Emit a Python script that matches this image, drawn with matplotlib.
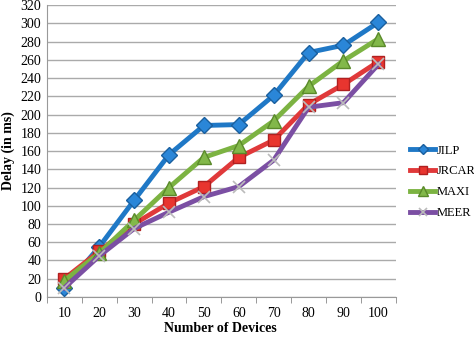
import matplotlib.pyplot as plt
import numpy as np

plt.rcParams['font.family'] = ['Liberation Serif', 'DejaVu Serif']

devices = ['10', '20', '30', '40', '50', '60', '70', '80', '90', '100']
jilp = [10, 55, 106, 156, 188, 189, 221, 268, 276, 301]
jrcar = [20, 50, 80, 103, 121, 153, 172, 211, 233, 258]
maxi = [18, 48, 84, 120, 153, 166, 193, 231, 259, 283]
meer = [10, 45, 75, 93, 110, 121, 150, 208, 213, 255]

fig = plt.figure(figsize=(4.74, 3.39), dpi=100)
ax = fig.add_axes([0.099, 0.124, 0.736, 0.861])
x = np.arange(len(devices))

ax.plot(x, jilp, color='#1f78c6', lw=3.5, marker='D', ms=8,
        mfc='#2a86d8', mec='#1a5f9e', label='JILP', zorder=3)
ax.plot(x, jrcar, color='#e0393a', lw=3.5, marker='s', ms=9,
        mfc='#e8352f', mec='#b02020', label='JRCAR', zorder=4)
ax.plot(x, maxi, color='#7cb342', lw=3.5, marker='^', ms=10,
        mfc='#82b84a', mec='#5a8a2a', label='MAXI', zorder=5)
ax.plot(x, meer, color='#7b4fa3', lw=3.5, marker='x', ms=9,
        mec='#bbbbbb', mew=1.2, label='MEER', zorder=6)

ax.set_xlim(-0.5, 9.5)
ax.set_ylim(0, 320)
ax.set_yticks(range(0, 321, 20))
ax.set_xticks(x)
ax.set_xticklabels(devices)
ax.set_xticks(np.arange(-0.5, 10, 1), minor=True)
ax.tick_params(axis='x', which='major', length=0, pad=7, labelsize=10)
ax.tick_params(axis='x', which='minor', length=4, color='#888888', direction='out')
ax.tick_params(axis='y', length=0, pad=4, labelsize=10)

ax.grid(axis='y', color='#aaaaaa', lw=1)
ax.set_axisbelow(True)
for s in ['top', 'right']:
    ax.spines[s].set_visible(False)
ax.spines['left'].set_color('#999999')
ax.spines['bottom'].set_color('#999999')

fig.text(0.465, 0.032, 'Number of Devices', fontweight='bold', fontsize=10,
         ha='center', va='center')
ax.set_ylabel('Delay (in ms)', fontweight='bold', fontsize=10, labelpad=4)

fig.legend(loc='upper left', bbox_to_anchor=(0.855, 0.588), frameon=False,
           fontsize=9, handlelength=2.0, handletextpad=0.1, labelspacing=0.7,
           borderaxespad=0, markerscale=0.7)

fig.savefig('out.png', dpi=100)
